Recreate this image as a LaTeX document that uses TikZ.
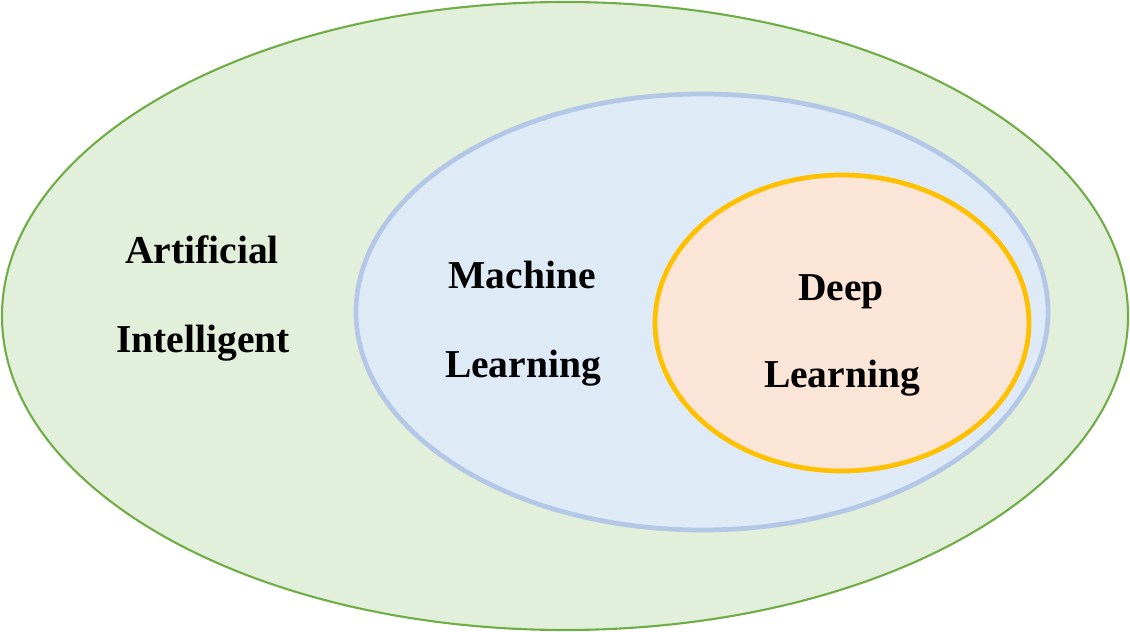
\documentclass[tikz,border=0pt]{standalone}
\usepackage{fontspec}
\setmainfont{Liberation Serif}
\usepackage{tikz}
\usetikzlibrary{positioning}
\definecolor{aifill}{HTML}{E2EFDA}
\definecolor{aidraw}{HTML}{70AD47}
\definecolor{mlfill}{HTML}{DEEBF7}
\definecolor{mldraw}{HTML}{B4C7E7}
\definecolor{dlfill}{HTML}{FBE5D6}
\definecolor{dldraw}{HTML}{FFC000}
\tikzset{
label text/.style={anchor=base, inner sep=0pt, font=\fontsize{22.5}{26}\selectfont\bfseries},
}

\begin{document}
\begin{tikzpicture}[x=0.02cm, y=-0.02cm]
		\useasboundingbox (0, 0) rectangle (1130, 632);
		\draw [fill=aifill, draw=aidraw, line width=1.2pt] (565, 316) ellipse [x radius=563, y radius=314];
		\draw [fill=mlfill, draw=mldraw, line width=2.7pt] (702, 312) ellipse [x radius=346, y radius=218];
		\draw [fill=dlfill, draw=dldraw, line width=2.7pt] (842, 323) ellipse [x radius=187, y radius=148];
		\node [label text] (ai1) at (202, 263) {Artificial};
		\node [label text] (ai2) at (203, 352) {Intelligent};
		\node [label text] (ml1) at (522, 288) {Machine};
		\node [label text] (ml2) at (523, 377) {Learning};
		\node [label text] (dl1) at (841, 300) {Deep};
		\node [label text] (dl2) at (842, 387) {Learning};
	\end{tikzpicture}
\end{document}
